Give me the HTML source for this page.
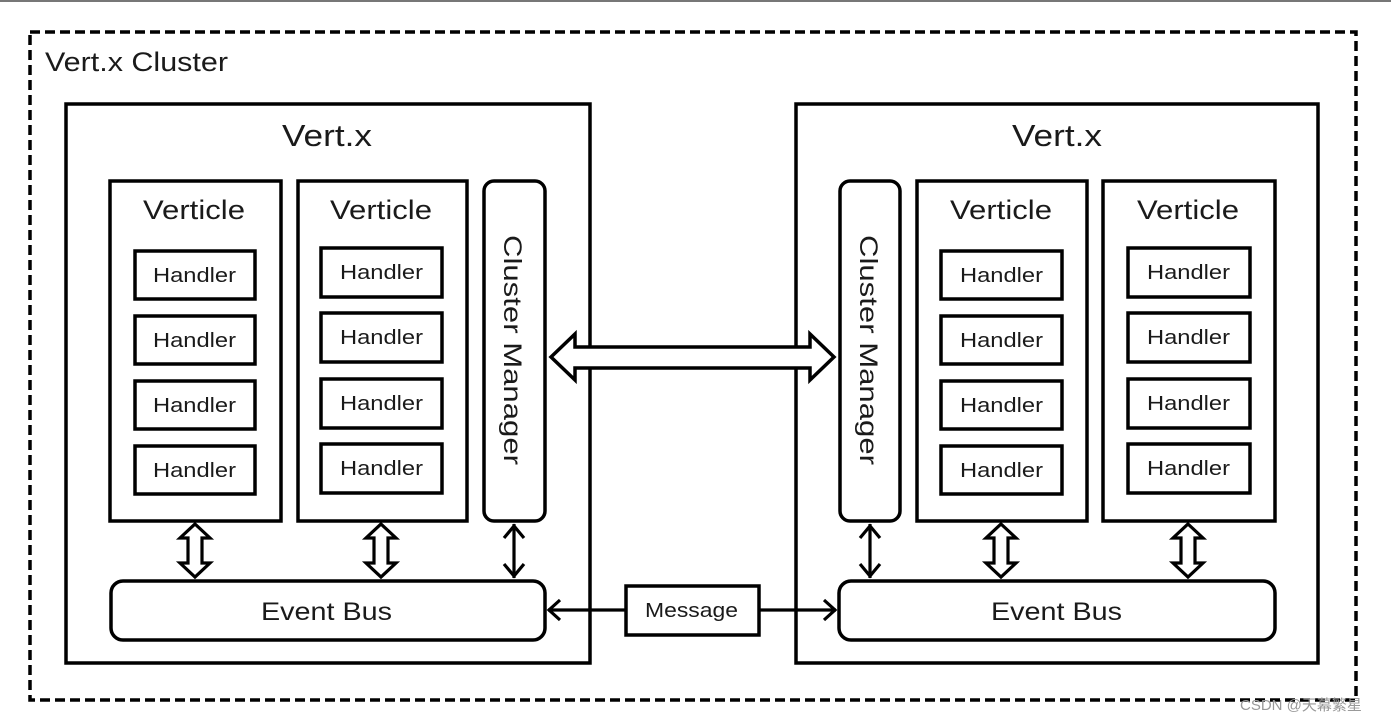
<!DOCTYPE html>
<html><head><meta charset="utf-8">
<style>
html,body{margin:0;padding:0;background:#fff;}
svg{display:block;}
text{font-family:"Liberation Sans","DejaVu Sans",sans-serif;fill:#1a1a1a;}
</style></head>
<body>
<svg width="1391" height="723" viewBox="0 0 1391 723" xmlns="http://www.w3.org/2000/svg">
<rect x="0" y="0" width="1391" height="2" fill="#777"/>
<rect x="30" y="32" width="1326" height="668" fill="none" stroke="#000" stroke-width="3.5" stroke-dasharray="10,5"/>
<text x="45" y="71" font-size="27" textLength="183" lengthAdjust="spacingAndGlyphs">Vert.x Cluster</text>

<g fill="none" stroke="#000" stroke-width="3.5">
<rect x="66" y="104" width="524" height="559"/>
<rect x="796" y="104" width="522" height="559"/>
<rect x="110" y="181" width="171" height="340"/>
<rect x="298" y="181" width="169" height="340"/>
<rect x="484" y="181" width="61" height="340" rx="10"/>
<rect x="840" y="181" width="60" height="340" rx="10"/>
<rect x="917" y="181" width="170" height="340"/>
<rect x="1103" y="181" width="172" height="340"/>
<rect x="135" y="251" width="120" height="48"/>
<rect x="135" y="316" width="120" height="48"/>
<rect x="135" y="381" width="120" height="48"/>
<rect x="135" y="446" width="120" height="48"/>
<rect x="321" y="248" width="121" height="49"/>
<rect x="321" y="313" width="121" height="49"/>
<rect x="321" y="379" width="121" height="49"/>
<rect x="321" y="444" width="121" height="49"/>
<rect x="941" y="251" width="121" height="48"/>
<rect x="941" y="316" width="121" height="48"/>
<rect x="941" y="381" width="121" height="48"/>
<rect x="941" y="446" width="121" height="48"/>
<rect x="1128" y="248" width="122" height="49"/>
<rect x="1128" y="313" width="122" height="49"/>
<rect x="1128" y="379" width="122" height="49"/>
<rect x="1128" y="444" width="122" height="49"/>
<rect x="111" y="581" width="434" height="59" rx="12"/>
<rect x="839" y="581" width="436" height="59" rx="12"/>
<rect x="626" y="586" width="133" height="49"/>
</g>

<text x="282" y="146" font-size="31" textLength="90" lengthAdjust="spacingAndGlyphs">Vert.x</text>
<text x="1012" y="146" font-size="31" textLength="90" lengthAdjust="spacingAndGlyphs">Vert.x</text>
<g font-size="27">
<text x="143" y="219" textLength="102" lengthAdjust="spacingAndGlyphs">Verticle</text>
<text x="330" y="219" textLength="102" lengthAdjust="spacingAndGlyphs">Verticle</text>
<text x="950" y="219" textLength="102" lengthAdjust="spacingAndGlyphs">Verticle</text>
<text x="1137" y="219" textLength="102" lengthAdjust="spacingAndGlyphs">Verticle</text>
</g>
<g font-size="25">
<text transform="translate(504,235) rotate(90)" textLength="230" lengthAdjust="spacingAndGlyphs">Cluster Manager</text>
<text transform="translate(860,235) rotate(90)" textLength="230" lengthAdjust="spacingAndGlyphs">Cluster Manager</text>
<text x="261" y="620" textLength="131" lengthAdjust="spacingAndGlyphs">Event Bus</text>
<text x="991" y="620" textLength="131" lengthAdjust="spacingAndGlyphs">Event Bus</text>
</g>
<g font-size="20">
<text x="153" y="282" textLength="83" lengthAdjust="spacingAndGlyphs">Handler</text>
<text x="153" y="347" textLength="83" lengthAdjust="spacingAndGlyphs">Handler</text>
<text x="153" y="412" textLength="83" lengthAdjust="spacingAndGlyphs">Handler</text>
<text x="153" y="477" textLength="83" lengthAdjust="spacingAndGlyphs">Handler</text>
<text x="340" y="279" textLength="83" lengthAdjust="spacingAndGlyphs">Handler</text>
<text x="340" y="344" textLength="83" lengthAdjust="spacingAndGlyphs">Handler</text>
<text x="340" y="410" textLength="83" lengthAdjust="spacingAndGlyphs">Handler</text>
<text x="340" y="475" textLength="83" lengthAdjust="spacingAndGlyphs">Handler</text>
<text x="960" y="282" textLength="83" lengthAdjust="spacingAndGlyphs">Handler</text>
<text x="960" y="347" textLength="83" lengthAdjust="spacingAndGlyphs">Handler</text>
<text x="960" y="412" textLength="83" lengthAdjust="spacingAndGlyphs">Handler</text>
<text x="960" y="477" textLength="83" lengthAdjust="spacingAndGlyphs">Handler</text>
<text x="1147" y="279" textLength="83" lengthAdjust="spacingAndGlyphs">Handler</text>
<text x="1147" y="344" textLength="83" lengthAdjust="spacingAndGlyphs">Handler</text>
<text x="1147" y="410" textLength="83" lengthAdjust="spacingAndGlyphs">Handler</text>
<text x="1147" y="475" textLength="83" lengthAdjust="spacingAndGlyphs">Handler</text>
<text x="645" y="617" textLength="93" lengthAdjust="spacingAndGlyphs">Message</text>
</g>

<path d="M551,357 L575,334 L575,347 L810,347 L810,334 L834,357 L810,380 L810,368 L575,368 L575,380 Z" fill="#fff" stroke="#000" stroke-width="3.5" stroke-linejoin="miter"/>

<g fill="#fff" stroke="#000" stroke-width="3.2" stroke-linejoin="miter">
<path d="M195,524 L210,538 L202,538 L202,563 L210,563 L195,577 L180,563 L188,563 L188,538 L180,538 Z"/>
<path d="M381,524 L396,538 L388,538 L388,563 L396,563 L381,577 L366,563 L374,563 L374,538 L366,538 Z"/>
<path d="M1001,524 L1016,538 L1008,538 L1008,563 L1016,563 L1001,577 L986,563 L994,563 L994,538 L986,538 Z"/>
<path d="M1188,524 L1203,538 L1195,538 L1195,563 L1203,563 L1188,577 L1173,563 L1181,563 L1181,538 L1173,538 Z"/>
</g>

<g fill="none" stroke="#000" stroke-width="3.2">
<line x1="514" y1="524" x2="514" y2="578"/>
<polyline points="504,538 514,526 524,538"/>
<polyline points="504,564 514,576 524,564"/>
<line x1="870" y1="524" x2="870" y2="578"/>
<polyline points="860,538 870,526 880,538"/>
<polyline points="860,564 870,576 880,564"/>
<line x1="548" y1="610" x2="626" y2="610"/>
<polyline points="560,600 549,610 560,620"/>
<line x1="759" y1="610" x2="836" y2="610"/>
<polyline points="824,600 835,610 824,620"/>
</g>

<text x="1240" y="710" font-size="15" style="fill:#999" font-family="Liberation Sans, Noto Sans CJK SC, sans-serif">CSDN @天幕繁星</text>
</svg>
</body></html>
